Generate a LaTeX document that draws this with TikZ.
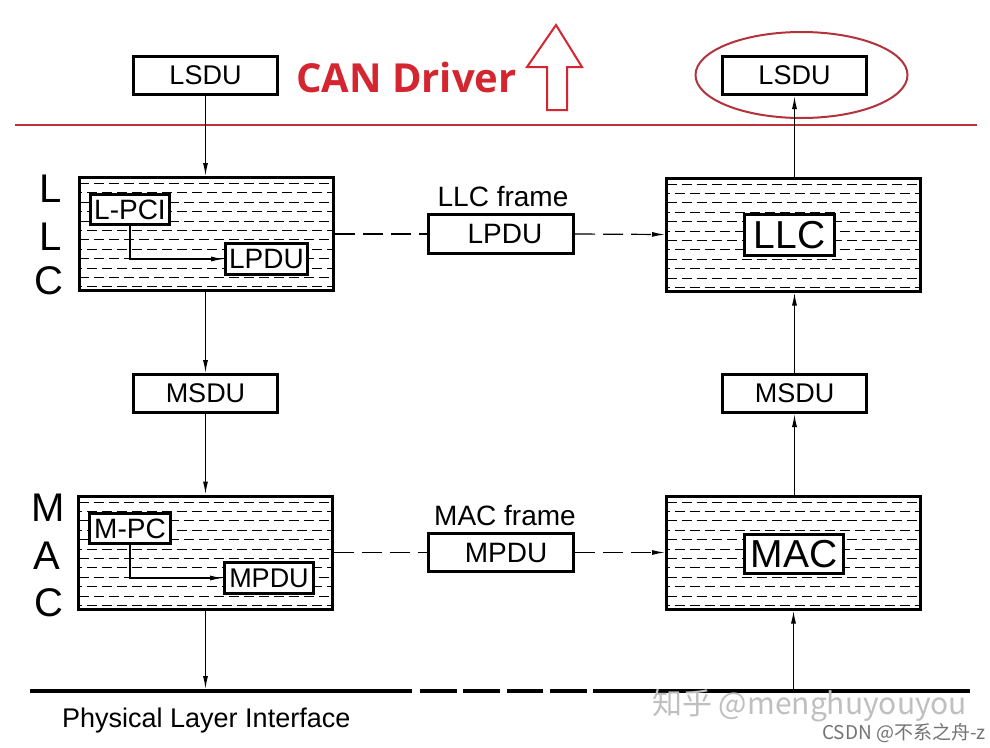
\documentclass[tikz,border=0pt]{standalone}
\usepackage{fontspec}
\setmainfont{Liberation Sans}
\newfontfamily\opensans{Open Sans}
\newfontfamily\cjk{Noto Sans CJK SC}
\usetikzlibrary{arrows.meta}
\newcommand\fsz[1]{\fontsize{#1}{#1}\selectfont}
\definecolor{candred}{RGB}{212,38,48}
\definecolor{linered}{RGB}{190,50,60}
\definecolor{ellred}{RGB}{180,50,60}
\tikzset{
  box/.style={draw, line width=3pt, fill=white, inner sep=0pt, font=\fsz{27}},
  sdu/.style={box, minimum width=144pt, minimum height=38pt},
  hatched/.style={draw, line width=3pt, inner sep=0pt, minimum width=254pt, minimum height=113pt,
    path picture={
      \foreach \k in {0,2,...,10}{
        \draw[line width=1pt, dash pattern=on 10pt off 5pt]
          ([yshift=-6pt-\k*9.4pt]path picture bounding box.north west) --
          ([yshift=-6pt-\k*9.4pt]path picture bounding box.north east);}
      \foreach \k in {1,3,...,11}{
        \draw[line width=1pt, dash pattern=on 10pt off 5pt, dash phase=7pt]
          ([yshift=-6pt-\k*9.4pt]path picture bounding box.north west) --
          ([yshift=-6pt-\k*9.4pt]path picture bounding box.north east);}
    }},
  arr/.style={line width=1.2pt, -{Latex[length=13pt,width=5pt]}},
  frameline/.style={line width=1.2pt, dash pattern=on 20pt off 8pt},
  sideletter/.style={font=\fsz{40}, anchor=base, inner sep=0pt},
  plain/.style={inner sep=0pt, font=\fsz{27}},
}
\begin{document}
\begin{tikzpicture}[x=1pt, y=-1pt]
\useasboundingbox (0,0) rectangle (990,747);
\fill[white] (0,0) rectangle (990,747);

% red top part
\draw[linered, line width=2.5pt] (15,125) -- (977,125);
\node[anchor=base west, inner sep=0pt, text=candred, font=\opensans\bfseries\fsz{40}] (cand) at (296,92) {CAN Driver};
\draw[candred, line width=2pt, line join=miter]
  (556,25) -- (582,67) -- (567,67) -- (567,110) -- (547,110) -- (547,67) -- (527,67) -- cycle;

% big hatched boxes
\node[hatched] (llcL) at (206,234) {};
\node[hatched] (llcR) at (793.5,234.5) {};
\node[hatched] (macL) at (205.5,552.5) {};
\node[hatched] (macR) at (793.5,552.5) {};

% SDU boxes
\node[sdu] (lsduL) at (205.5,75.5) {LSDU};
\node[sdu] (lsduR) at (794.5,75.5) {LSDU};
\node[sdu] (msduL) at (205.5,393.5) {MSDU};
\node[sdu] (msduR) at (794.5,393.5) {MSDU};

% ellipse
\draw[ellred, line width=2pt] (801.5,75) ellipse [x radius=106pt, y radius=43pt];

% inner boxes
\node[box, minimum width=79pt, minimum height=30pt, font=\fsz{28}] (lpci) at (130,209.5) {L-PCI};
\node[box, minimum width=82pt, minimum height=31pt, font=\fsz{28}] (lpduS) at (266.5,259) {LPDU};
\node[box, minimum width=81pt, minimum height=30pt, font=\fsz{28}] (mpc) at (130,528.5) {M-PC};
\node[box, minimum width=89pt, minimum height=31pt] (mpduS) at (269,578) {MPDU};
\node[box, minimum width=90pt, minimum height=41pt, font=\fsz{39}] (llclab) at (789.5,235) {LLC};
\node[box, minimum width=99pt, minimum height=39pt, font=\fsz{39}] (maclab) at (794,554) {MAC};

% middle frames
\node[box, minimum width=145pt, minimum height=39pt, font=\fsz{28}, text width=145pt, align=center] (lpduM) at (501,234) {\hspace*{8pt}LPDU};
\node[box, minimum width=145pt, minimum height=38pt, font=\fsz{28}, text width=145pt, align=center] (mpduM) at (501,552.5) {\hspace*{10pt}MPDU};
\node[plain, font=\fsz{28}] (llcframe) at (503,197) {LLC frame};
\node[plain, font=\fsz{28}] (macframe) at (505,515) {MAC frame};

% internal arrows
\draw[arr] (lpci.south) |- (lpduS.west);
\draw[arr] (mpc.south) |- (mpduS.west);

% dashed frame lines
\draw[frameline] (llcL.east) -- (lpduM.west);
\draw[frameline, -{Latex[length=13pt,width=5pt]}] (lpduM.east) -- (llcR.west);
\draw[frameline] (macL.east) -- (mpduM.west);
\draw[frameline, -{Latex[length=13pt,width=5pt]}] (mpduM.east) -- (macR.west);

% physical layer line
\draw[line width=4pt] (30,691) -- (412,691);
\foreach \a/\b in {420/457,463/500,507/543,550/587}{\draw[line width=4pt] (\a,691) -- (\b,691);}
\draw[line width=4pt] (593,691) -- (970,691);
\coordinate (phyL) at (205.5,689);
\coordinate (phyR) at (793.5,689);
\node[anchor=base west, inner sep=0pt, font=\fsz{27}] (phys) at (62,727) {Physical Layer Interface};

% left column arrows (down)
\draw[arr] (lsduL.south) -- (lsduL.south |- llcL.north);
\draw[arr] (msduL.north |- llcL.south) -- (msduL.north);
\draw[arr] (msduL.south) -- (msduL.south |- macL.north);
\draw[arr] (msduL.south |- macL.south) -- (phyL);

% right column arrows (up)
\draw[arr] (phyR) -- (phyR |- macR.south);
\draw[arr] (msduR.south |- macR.north) -- (msduR.south);
\draw[arr] (msduR.north) -- (msduR.north |- llcR.south);
\draw[arr] (lsduR.south |- llcR.north) -- (lsduR.south);

% side letters
\node[sideletter] (sl1) at (51,202) {L};
\node[sideletter] (sl2) at (51,250) {L};
\node[sideletter] (sl3) at (49,294) {C};
\node[sideletter] (sm1) at (48,521) {M};
\node[sideletter] (sm2) at (47,569) {A};
\node[sideletter] (sm3) at (49,616) {C};

% watermarks
\node[anchor=base west, inner sep=0pt, text=black!25, font=\cjk\fsz{30}] (wm1) at (652,714) {知乎 @menghuyouyou};
\node[anchor=base east, inner sep=0pt, text=black!55, font=\cjk\fsz{19}] (wm2) at (986,739) {CSDN @不系之舟-z};
\end{tikzpicture}
\end{document}
